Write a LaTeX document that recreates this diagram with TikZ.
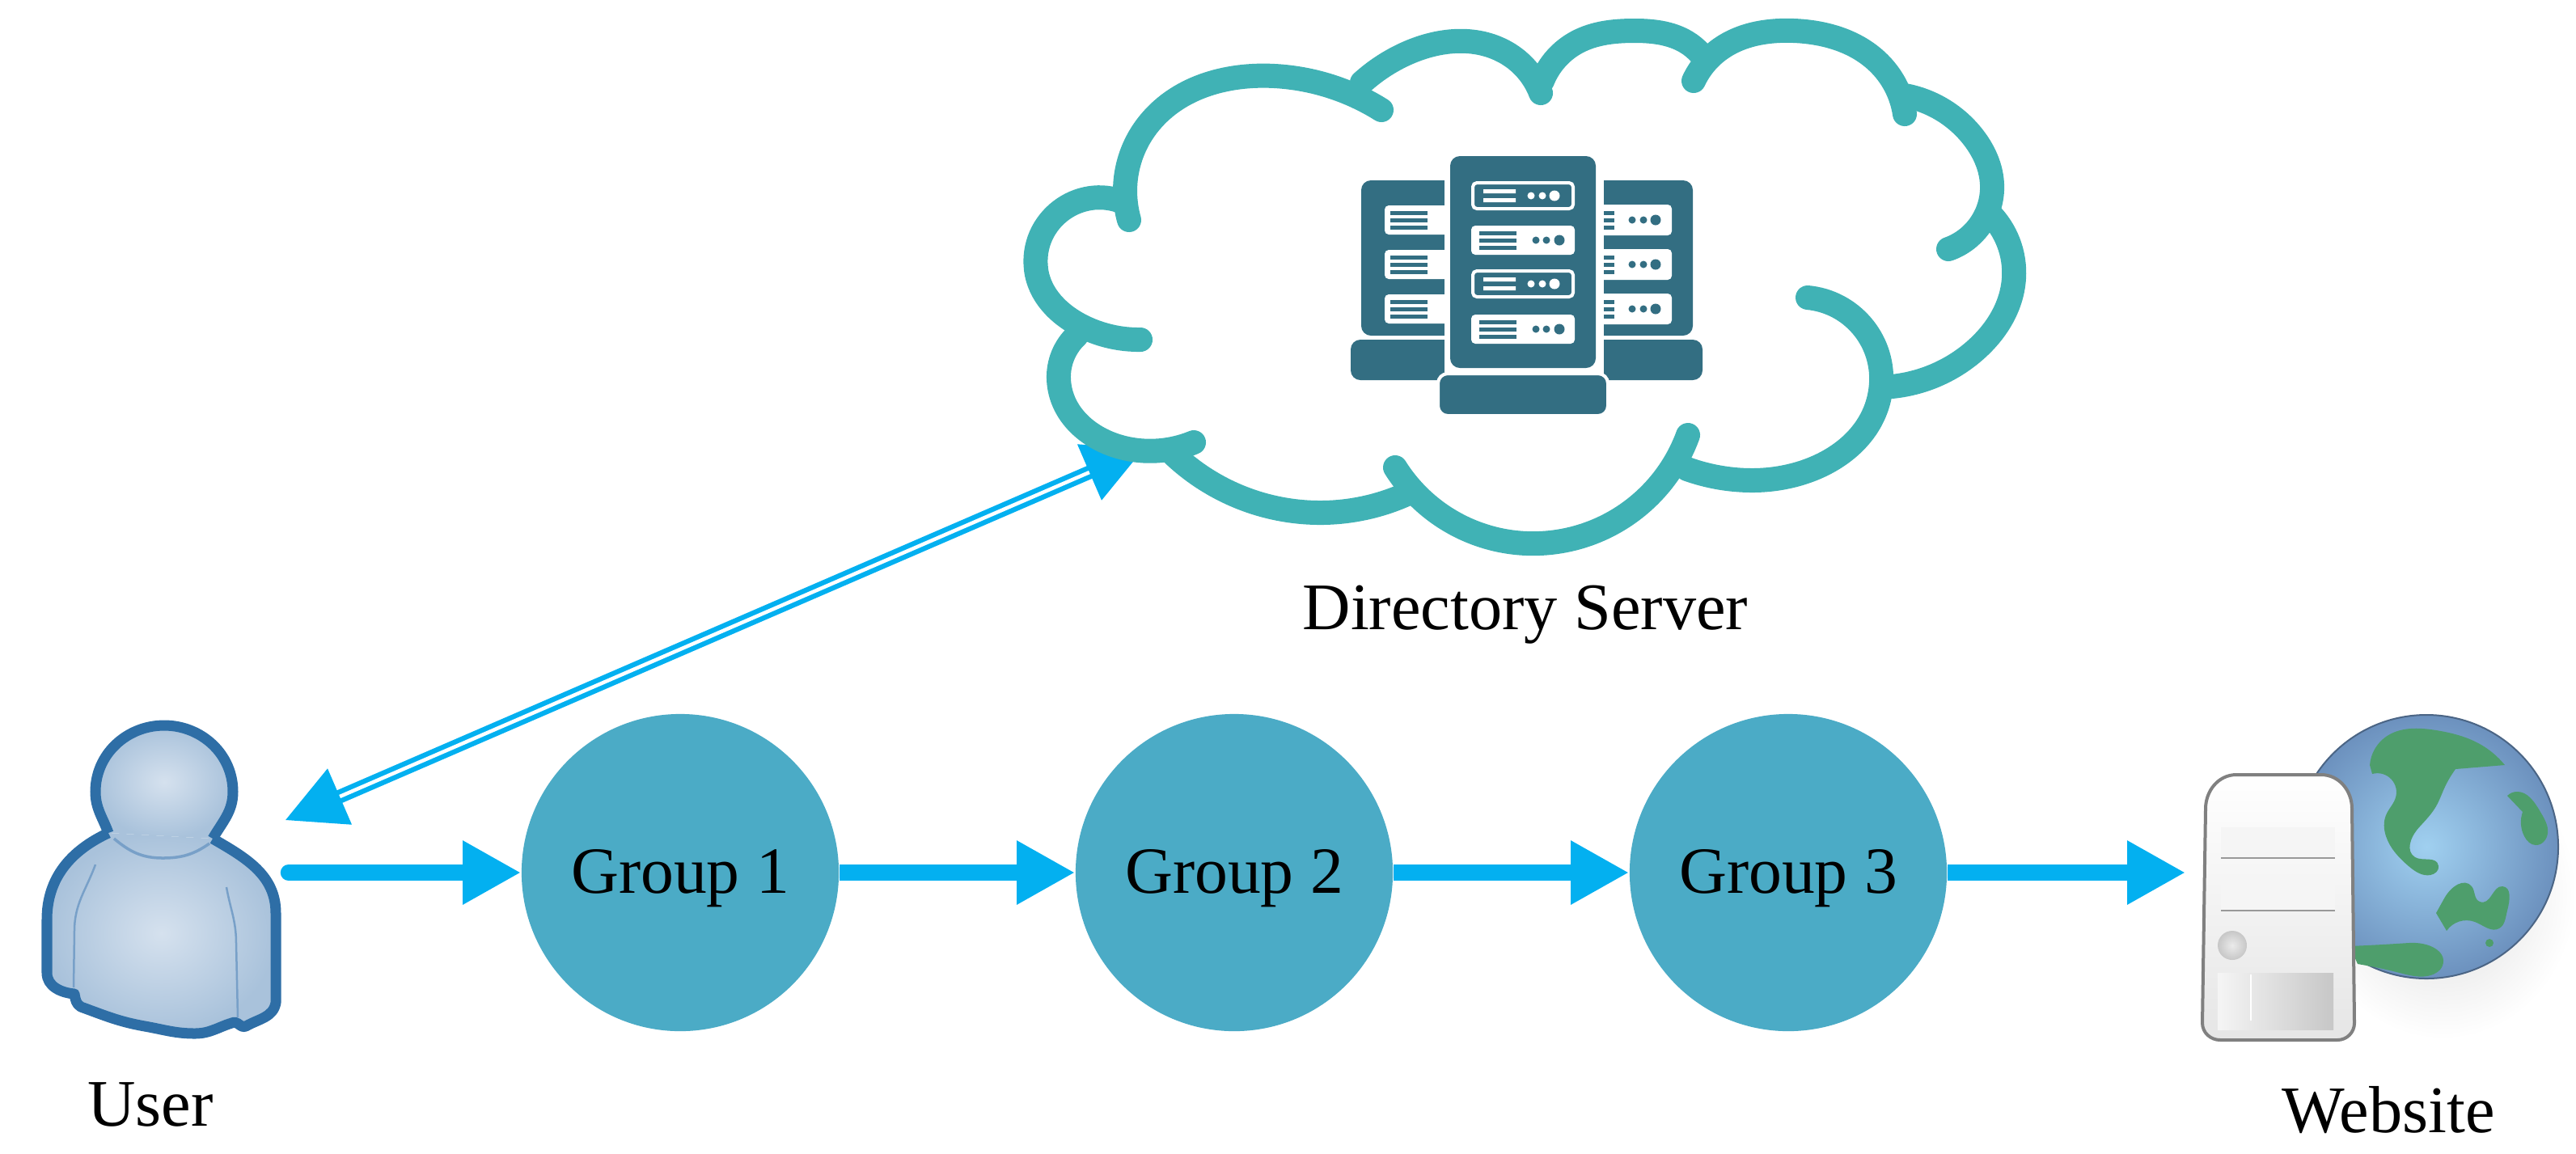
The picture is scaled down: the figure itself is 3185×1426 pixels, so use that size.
\documentclass[tikz,border=0pt]{standalone}
\usepackage{fontspec}
\setmainfont{Liberation Serif}
\usepackage{xcolor}
\usetikzlibrary{arrows.meta,hobby,positioning}
\definecolor{cloudteal}{RGB}{64,178,181}
\definecolor{rackblue}{RGB}{51,110,130}
\definecolor{arrowblue}{RGB}{3,176,240}
\definecolor{groupblue}{RGB}{75,171,198}
\definecolor{userline}{RGB}{46,110,166}
\definecolor{userfold}{RGB}{120,160,200}
\definecolor{userlight}{RGB}{213,225,238}
\definecolor{userdark}{RGB}{169,194,219}
\definecolor{land}{RGB}{78,158,108}
\definecolor{globelight}{RGB}{160,208,240}
\definecolor{globedark}{RGB}{108,145,190}
\tikzset{>=stealth}
\tikzset{
  cloudline/.style={cloudteal,line width=0.3cm,line cap=round,line join=round,use Hobby shortcut},
  group/.style={circle,fill=groupblue,minimum size=3.92cm,inner sep=0pt,
    text height=0.67cm,text depth=0.17cm,font=\fontsize{23.2}{27}\selectfont},
  caption/.style={inner sep=0pt,font=\fontsize{23.4}{27}\selectfont},
  icon/.style={inner sep=0pt},
  flow/.style={draw=arrowblue,line width=0.2cm,-{Triangle[length=0.72cm,width=0.74cm]}},
  lookup/.style={draw=arrowblue,line width=0.062cm,double=white,double distance=0.045cm,
    {Triangle[length=0.73cm,width=0.74cm]}-{Triangle[length=0.73cm,width=0.74cm]}},
  rack/.style={fill=rackblue,rounded corners=0.12cm},
}
\begin{document}
\begin{tikzpicture}[x=0.01cm,y=-0.01cm]
    \useasboundingbox (0,0) rectangle (3185,1426);
    % invisible boxes round the two icons, for the arrows
    \node[icon,minimum width=3.12cm,minimum height=3.9cm] (user) at (200,1079) {};
    \node[icon,minimum width=4.6cm,minimum height=4cm] (website) at (2933,1079) {};
    \node[group] (g1) at (841,1079) {Group 1};
    \node[group] (g2) at (1526,1079) {Group 2};
    \node[group] (g3) at (2211,1079) {Group 3};
    \node[caption] (dirlabel) at (1886,760) {Directory Server};
    \node[caption] (userlabel) at (186,1366) {User};
    \node[caption] (weblabel) at (2953,1373) {Website};
    \coordinate (usertip) at (353,1014);
    \coordinate (cloudtip) at (1414,555);

    \draw[flow,line cap=round] (user) -- (g1);
    \draw[flow] (g1) -- (g2);
    \draw[flow] (g2) -- (g3);
    \draw[flow] (g3) -- (website);
    \draw[lookup] (usertip) -- (cloudtip);

    % cloud
    \begin{scope}
        \draw[cloudline] (1708,136) .. (1576,94) .. (1418,156) .. (1396,272);
        \draw[cloudline] (1684,102) .. (1737,67) .. (1862,65) .. (1905,115);
        \draw[cloudline] (1907,100) .. (1950,52) .. (2019,38) .. (2085,52) .. (2102,66);
        \draw[cloudline] (2094,100) .. (2125,62) .. (2218,38) .. (2325,80) .. (2355,141);
        \draw[cloudline] (2355,118) .. (2440,170) .. (2463,235) .. (2409,308);
        \draw[cloudline] (2459,263) .. (2490,344) .. (2440,435) .. (2339,478);
        \draw[cloudline] (2235,368) .. (2326,473) .. (2165,594) .. (2086,580);
        \draw[cloudline] (2087,538) .. (1903,672) .. (1725,578);
        \draw[cloudline] (1737,612) .. (1630,634) .. (1451,562);
        \draw[cloudline] (1476,547) .. (1400,556) .. (1309,469) .. (1331,415);
        \draw[cloudline] (1410,420) .. (1339,404) .. (1281,333) .. (1389,250);
    \end{scope}

    % servers, back left and back right
    \fill[rack] (1683,223) rectangle (1830,415);
    \fill[rack] (1950,223) rectangle (2093,415);
    \fill[rack] (1670,420) rectangle (1830,470);
    \fill[rack] (1950,420) rectangle (2105,470);
    \foreach \y in {272,327,382} {
        \fill[white,rounded corners=0.05cm] (1712,\y-18) rectangle (1830,\y+18);
        \fill[white,rounded corners=0.05cm] (1950,\y-19) rectangle (2067,\y+19);
        \foreach \d in {-9,0,9} {
            \fill[rackblue] (1719,\y+\d-2.5) rectangle (1765,\y+\d+2.5);
            \fill[rackblue] (1983,\y+\d-2.5) rectangle (1996,\y+\d+2.5);
        }
        \fill[rackblue] (2018,\y) circle (4.5) (2032,\y) circle (4.5) (2047,\y) circle (6.5);
    }
    % server, front
    \fill[white] (1786,185) rectangle (1983,480);
    \fill[rack] (1793,193) rectangle (1973,455);
    \draw[rack,draw=white,line width=0.04cm] (1778,462) rectangle (1988,514);
    \foreach \y in {242,351} {
        \draw[white,line width=0.04cm,rounded corners=0.05cm] (1821,\y-16) rectangle (1945,\y+16);
        \fill[white] (1834,\y-8) rectangle (1874,\y-3) (1834,\y+3) rectangle (1874,\y+8);
        \fill[white] (1893,\y) circle (4.5) (1907,\y) circle (4.5) (1922,\y) circle (6.5);
    }
    \foreach \y in {297,407} {
        \fill[white,rounded corners=0.05cm] (1819,\y-18) rectangle (1947,\y+18);
        \foreach \d in {-9,0,9} {
            \fill[rackblue] (1829,\y+\d-2.5) rectangle (1875,\y+\d+2.5);
        }
        \fill[rackblue] (1899,\y) circle (4.5) (1912,\y) circle (4.5) (1928,\y) circle (6.5);
    }

    % user
    \path[shade,inner color=userlight,outer color=userdark] (134,1030)
        to[out=205,in=90] (58,1137) -- (58,1203) to[out=-90,in=175] (92,1229)
        to[out=-80,in=150] (100,1245) to[out=-20,in=170] (179,1269) to[out=-10,in=180] (241,1278)
        to[out=0,in=195] (290,1264) to[out=-10,in=210] (304,1269) to[out=30,in=-100] (341,1240)
        -- (341,1129) to[out=90,in=-30] (263,1037) -- cycle;
    \draw[userfold,line width=0.035cm] (141,1037) to[out=-40,in=180] (201,1061) to[out=0,in=215] (259,1043);
    \draw[userfold,line width=0.025cm] (118,1069) to[out=-110,in=90] (92,1151) -- (91,1221);
    \draw[userfold,line width=0.025cm] (280,1097) to[out=-80,in=90] (292,1166) -- (294,1258);
    \draw[userline,line width=0.13cm,line join=round] (134,1030)
        to[out=205,in=90] (58,1137) -- (58,1203) to[out=-90,in=175] (92,1229)
        to[out=-80,in=150] (100,1245) to[out=-20,in=170] (179,1269) to[out=-10,in=180] (241,1278)
        to[out=0,in=195] (290,1264) to[out=-10,in=210] (304,1269) to[out=30,in=-100] (341,1240)
        -- (341,1129) to[out=90,in=-30] (263,1037);
    \draw[userline,line width=0.13cm,inner color=userlight,outer color=userdark,shade]
        (134,1030) to[out=110,in=-90] (118,979) to[out=90,in=180] (203,897)
        to[out=0,in=90] (288,979) to[out=-90,in=60] (263,1037);

    % website
    \path[shade,inner color=black!14,outer color=white] (3020,1105) ellipse (165 and 180);
    \shade[inner color=globelight,outer color=globedark] (3000,1047) circle (163);
    \draw[globedark!70!black,line width=0.02cm] (3000,1047) circle (163);
    \fill[land,use Hobby shortcut] (2930,946) .. (2950,911) .. (3012,903) .. (3066,920) .. (3097,946)
        -- (3036,951) .. (3022,975) .. (3012,997) .. (2991,1023) .. (2986,1060) .. (3015,1071)
        .. (3005,1082) .. (2978,1071) .. (2950,1034) .. (2950,1008) .. (2962,986) .. (2957,964) .. (2933,957) -- cycle;
    \fill[land,use Hobby shortcut] (3100,984) .. (3111,979) .. (3141,1004) .. (3150,1030) .. (3135,1045)
        .. (3121,1034) .. (3119,1004) -- cycle;
    \fill[land,use Hobby shortcut] (3012,1129) .. (3022,1111) .. (3056,1096) .. (3066,1115) .. (3094,1096)
        .. (3100,1126) .. (3090,1148) .. (3060,1140) .. (3025,1151) -- cycle;
    \fill[land] (3078,1166) circle (5);
    \fill[land,use Hobby shortcut] (2905,1170) .. (2978,1166) .. (3020,1194) .. (3012,1203) .. (2967,1203) .. (2915,1192) -- cycle;
    \draw[black!50,line width=0.04cm,top color=white,bottom color=black!10]
        (2723,1265) -- (2727,1000) to[out=90,in=180] (2765,958) -- (2870,958) to[out=0,in=90] (2908,1000)
        -- (2911,1265) to[out=-90,in=0] (2890,1286) -- (2745,1286) to[out=180,in=-90] cycle;
    \foreach \top/\bot in {1023/1061,1082/1126} {
        \fill[black!4] (2746,\top) rectangle (2887,\bot);
        \draw[black!40,line width=0.015cm] (2746,\bot) -- (2887,\bot);
    }
    \shade[inner color=black!8,outer color=black!22] (2760,1169) circle (18);
    \shade[left color=black!4,right color=black!22] (2742,1203) rectangle (2885,1273);
    \draw[white,line width=0.02cm] (2783,1205) -- (2783,1262);
\end{tikzpicture}
\end{document}
